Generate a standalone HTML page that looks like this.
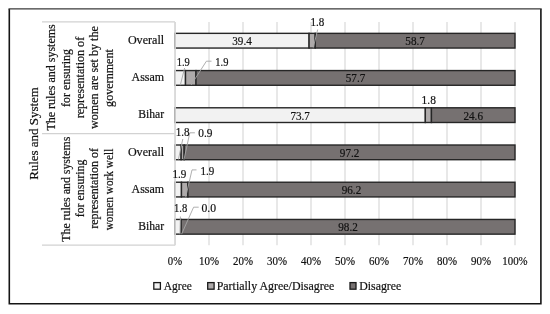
<!DOCTYPE html>
<html><head><meta charset="utf-8"><title>Rules and System</title>
<style>
html,body{margin:0;padding:0;background:#fff;}
body{width:550px;height:314px;overflow:hidden;}
svg{display:block;}
svg text{font-family:"Liberation Serif","DejaVu Serif",serif;fill:#111;stroke:#111;stroke-width:0.2px;}
</style></head><body>
<svg width="550" height="314" viewBox="0 0 550 314">
<rect x="0" y="0" width="550" height="314" fill="#fff"/>
<path d="M9.3 8.9 L9.3 303.7 L540.9 303.7 L540.9 8.9" fill="none" stroke="#151515" stroke-width="1.6" stroke-linejoin="miter"/>
<line x1="8.5" y1="8.9" x2="541.7" y2="8.9" stroke="#3a3a3a" stroke-width="1.2"/>
<line x1="175.00" y1="21.9" x2="175.00" y2="245.22" stroke="#d9d9d9" stroke-width="1.2"/>
<line x1="209.00" y1="21.9" x2="209.00" y2="245.22" stroke="#d9d9d9" stroke-width="1.2"/>
<line x1="243.00" y1="21.9" x2="243.00" y2="245.22" stroke="#d9d9d9" stroke-width="1.2"/>
<line x1="277.00" y1="21.9" x2="277.00" y2="245.22" stroke="#d9d9d9" stroke-width="1.2"/>
<line x1="311.00" y1="21.9" x2="311.00" y2="245.22" stroke="#d9d9d9" stroke-width="1.2"/>
<line x1="345.00" y1="21.9" x2="345.00" y2="245.22" stroke="#d9d9d9" stroke-width="1.2"/>
<line x1="379.00" y1="21.9" x2="379.00" y2="245.22" stroke="#d9d9d9" stroke-width="1.2"/>
<line x1="413.00" y1="21.9" x2="413.00" y2="245.22" stroke="#d9d9d9" stroke-width="1.2"/>
<line x1="447.00" y1="21.9" x2="447.00" y2="245.22" stroke="#d9d9d9" stroke-width="1.2"/>
<line x1="481.00" y1="21.9" x2="481.00" y2="245.22" stroke="#d9d9d9" stroke-width="1.2"/>
<line x1="515.00" y1="21.9" x2="515.00" y2="245.22" stroke="#d9d9d9" stroke-width="1.2"/>
<line x1="42" y1="21.90" x2="175.0" y2="21.90" stroke="#d2d2d2" stroke-width="1.3"/>
<line x1="42" y1="133.56" x2="175.0" y2="133.56" stroke="#d2d2d2" stroke-width="1.3"/>
<line x1="42" y1="245.22" x2="175.0" y2="245.22" stroke="#d2d2d2" stroke-width="1.3"/>
<rect x="175.00" y="33.35" width="134.09" height="14.7" fill="#f2f2f2" stroke="#262626" stroke-width="1.4"/>
<rect x="309.09" y="33.35" width="6.13" height="14.7" fill="#aeaaaa" stroke="#262626" stroke-width="1.4"/>
<rect x="315.22" y="33.35" width="199.78" height="14.7" fill="#767171" stroke="#262626" stroke-width="1.4"/>
<rect x="175.00" y="70.57" width="10.50" height="14.7" fill="#f2f2f2" stroke="#262626" stroke-width="1.4"/>
<rect x="185.50" y="70.57" width="10.50" height="14.7" fill="#aeaaaa" stroke="#262626" stroke-width="1.4"/>
<rect x="196.01" y="70.57" width="318.99" height="14.7" fill="#767171" stroke="#262626" stroke-width="1.4"/>
<rect x="175.00" y="107.79" width="250.33" height="14.7" fill="#f2f2f2" stroke="#262626" stroke-width="1.4"/>
<rect x="425.33" y="107.79" width="6.11" height="14.7" fill="#aeaaaa" stroke="#262626" stroke-width="1.4"/>
<rect x="431.44" y="107.79" width="83.56" height="14.7" fill="#767171" stroke="#262626" stroke-width="1.4"/>
<rect x="175.00" y="145.01" width="6.13" height="14.7" fill="#f2f2f2" stroke="#262626" stroke-width="1.4"/>
<rect x="181.13" y="145.01" width="3.06" height="14.7" fill="#aeaaaa" stroke="#262626" stroke-width="1.4"/>
<rect x="184.19" y="145.01" width="330.81" height="14.7" fill="#767171" stroke="#262626" stroke-width="1.4"/>
<rect x="175.00" y="182.23" width="6.46" height="14.7" fill="#f2f2f2" stroke="#262626" stroke-width="1.4"/>
<rect x="181.46" y="182.23" width="6.46" height="14.7" fill="#aeaaaa" stroke="#262626" stroke-width="1.4"/>
<rect x="187.92" y="182.23" width="327.08" height="14.7" fill="#767171" stroke="#262626" stroke-width="1.4"/>
<rect x="175.00" y="219.45" width="6.12" height="14.7" fill="#f2f2f2" stroke="#262626" stroke-width="1.4"/>
<rect x="181.12" y="219.45" width="333.88" height="14.7" fill="#767171" stroke="#262626" stroke-width="1.4"/>
<line x1="175.1" y1="21.9" x2="175.1" y2="245.22" stroke="#d9d9d9" stroke-width="1.6"/>
<polyline points="317.7,29.5 313.3,47.5" fill="none" stroke="#a6a6a6" stroke-width="0.9"/>
<polyline points="184.6,68.0 180.3,85.2" fill="none" stroke="#a6a6a6" stroke-width="0.9"/>
<polyline points="211.5,61.2 206.4,61.2 191.1,85.0" fill="none" stroke="#a6a6a6" stroke-width="0.9"/>
<polyline points="182.8,139.0 178.4,159.5" fill="none" stroke="#a6a6a6" stroke-width="0.9"/>
<polyline points="194.9,132.8 189.8,132.8 184.0,159.5" fill="none" stroke="#a6a6a6" stroke-width="0.9"/>
<polyline points="196.5,169.9 192.0,169.9 185.7,197.1" fill="none" stroke="#a6a6a6" stroke-width="0.9"/>
<polyline points="180.4,216.5 180.0,234.3" fill="none" stroke="#a6a6a6" stroke-width="0.9"/>
<polyline points="198.7,207.2 193.6,207.2 181.5,234.3" fill="none" stroke="#a6a6a6" stroke-width="0.9"/>
<text x="242.05" y="45.20" font-size="12" text-anchor="middle" textLength="19.5" lengthAdjust="spacingAndGlyphs">39.4</text>
<text x="415.11" y="45.20" font-size="12" text-anchor="middle" textLength="19.5" lengthAdjust="spacingAndGlyphs">58.7</text>
<text x="355.50" y="82.42" font-size="12" text-anchor="middle" textLength="19.5" lengthAdjust="spacingAndGlyphs">57.7</text>
<text x="300.16" y="119.64" font-size="12" text-anchor="middle" textLength="19.5" lengthAdjust="spacingAndGlyphs">73.7</text>
<text x="473.22" y="119.64" font-size="12" text-anchor="middle" textLength="19.5" lengthAdjust="spacingAndGlyphs">24.6</text>
<text x="349.59" y="156.86" font-size="12" text-anchor="middle" textLength="19.5" lengthAdjust="spacingAndGlyphs">97.2</text>
<text x="351.46" y="194.08" font-size="12" text-anchor="middle" textLength="19.5" lengthAdjust="spacingAndGlyphs">96.2</text>
<text x="348.06" y="231.30" font-size="12" text-anchor="middle" textLength="19.5" lengthAdjust="spacingAndGlyphs">98.2</text>
<text x="317.50" y="26.10" font-size="12" text-anchor="middle" textLength="13.8" lengthAdjust="spacingAndGlyphs">1.8</text>
<text x="183.25" y="65.50" font-size="12" text-anchor="middle" textLength="13.1" lengthAdjust="spacingAndGlyphs">1.9</text>
<text x="221.85" y="66.30" font-size="12" text-anchor="middle" textLength="13.1" lengthAdjust="spacingAndGlyphs">1.9</text>
<text x="428.75" y="103.90" font-size="12" text-anchor="middle" textLength="14.3" lengthAdjust="spacingAndGlyphs">1.8</text>
<text x="182.70" y="136.20" font-size="12" text-anchor="middle" textLength="13.8" lengthAdjust="spacingAndGlyphs">1.8</text>
<text x="205.40" y="137.10" font-size="12" text-anchor="middle" textLength="14.2" lengthAdjust="spacingAndGlyphs">0.9</text>
<text x="179.45" y="177.70" font-size="12" text-anchor="middle" textLength="13.9" lengthAdjust="spacingAndGlyphs">1.9</text>
<text x="207.50" y="174.50" font-size="12" text-anchor="middle" textLength="13.8" lengthAdjust="spacingAndGlyphs">1.9</text>
<text x="180.70" y="211.90" font-size="12" text-anchor="middle" textLength="13.2" lengthAdjust="spacingAndGlyphs">1.8</text>
<text x="208.80" y="211.90" font-size="12" text-anchor="middle" textLength="14.6" lengthAdjust="spacingAndGlyphs">0.0</text>
<text x="175.00" y="264.80" font-size="12" text-anchor="middle" textLength="14.3" lengthAdjust="spacingAndGlyphs">0%</text>
<text x="209.00" y="264.80" font-size="12" text-anchor="middle" textLength="20.0" lengthAdjust="spacingAndGlyphs">10%</text>
<text x="243.00" y="264.80" font-size="12" text-anchor="middle" textLength="20.0" lengthAdjust="spacingAndGlyphs">20%</text>
<text x="277.00" y="264.80" font-size="12" text-anchor="middle" textLength="20.0" lengthAdjust="spacingAndGlyphs">30%</text>
<text x="311.00" y="264.80" font-size="12" text-anchor="middle" textLength="20.0" lengthAdjust="spacingAndGlyphs">40%</text>
<text x="345.00" y="264.80" font-size="12" text-anchor="middle" textLength="20.0" lengthAdjust="spacingAndGlyphs">50%</text>
<text x="379.00" y="264.80" font-size="12" text-anchor="middle" textLength="20.0" lengthAdjust="spacingAndGlyphs">60%</text>
<text x="413.00" y="264.80" font-size="12" text-anchor="middle" textLength="20.0" lengthAdjust="spacingAndGlyphs">70%</text>
<text x="447.00" y="264.80" font-size="12" text-anchor="middle" textLength="20.0" lengthAdjust="spacingAndGlyphs">80%</text>
<text x="481.00" y="264.80" font-size="12" text-anchor="middle" textLength="20.0" lengthAdjust="spacingAndGlyphs">90%</text>
<text x="515.00" y="264.80" font-size="12" text-anchor="middle" textLength="25.3" lengthAdjust="spacingAndGlyphs">100%</text>
<text x="146.00" y="43.50" font-size="12" text-anchor="middle" textLength="36.2" lengthAdjust="spacingAndGlyphs">Overall</text>
<text x="147.80" y="81.42" font-size="12" text-anchor="middle" textLength="32.6" lengthAdjust="spacingAndGlyphs">Assam</text>
<text x="151.15" y="118.44" font-size="12" text-anchor="middle" textLength="25.9" lengthAdjust="spacingAndGlyphs">Bihar</text>
<text x="146.00" y="156.16" font-size="12" text-anchor="middle" textLength="36.2" lengthAdjust="spacingAndGlyphs">Overall</text>
<text x="147.80" y="193.38" font-size="12" text-anchor="middle" textLength="32.6" lengthAdjust="spacingAndGlyphs">Assam</text>
<text x="151.15" y="229.60" font-size="12" text-anchor="middle" textLength="25.9" lengthAdjust="spacingAndGlyphs">Bihar</text>
<text x="55.30" y="77.40" font-size="12" text-anchor="middle" textLength="106.4" lengthAdjust="spacingAndGlyphs" transform="rotate(-90 55.30 77.40)">The rules and systems</text>
<text x="69.80" y="78.00" font-size="12" text-anchor="middle" textLength="57.8" lengthAdjust="spacingAndGlyphs" transform="rotate(-90 69.80 78.00)">for ensuring</text>
<text x="84.20" y="77.55" font-size="12" text-anchor="middle" textLength="81.5" lengthAdjust="spacingAndGlyphs" transform="rotate(-90 84.20 77.55)">representation of</text>
<text x="98.40" y="77.60" font-size="12" text-anchor="middle" textLength="102.8" lengthAdjust="spacingAndGlyphs" transform="rotate(-90 98.40 77.60)">women are set by the</text>
<text x="112.70" y="78.00" font-size="12" text-anchor="middle" textLength="57.8" lengthAdjust="spacingAndGlyphs" transform="rotate(-90 112.70 78.00)">government</text>
<text x="69.80" y="189.20" font-size="12" text-anchor="middle" textLength="105.2" lengthAdjust="spacingAndGlyphs" transform="rotate(-90 69.80 189.20)">The rules and systems</text>
<text x="84.20" y="188.40" font-size="12" text-anchor="middle" textLength="57.8" lengthAdjust="spacingAndGlyphs" transform="rotate(-90 84.20 188.40)">for ensuring</text>
<text x="98.40" y="188.40" font-size="12" text-anchor="middle" textLength="80.8" lengthAdjust="spacingAndGlyphs" transform="rotate(-90 98.40 188.40)">representation of</text>
<text x="112.80" y="189.50" font-size="12" text-anchor="middle" textLength="81.6" lengthAdjust="spacingAndGlyphs" transform="rotate(-90 112.80 189.50)">women work well</text>
<text x="37.50" y="133.50" font-size="13" text-anchor="middle" textLength="92.6" lengthAdjust="spacingAndGlyphs" transform="rotate(-90 37.50 133.50)">Rules and System</text>
<rect x="153.8" y="282.6" width="6.6" height="6.6" fill="#f2f2f2" stroke="#1a1a1a" stroke-width="1.3"/>
<rect x="207.7" y="282.6" width="6.4" height="6.6" fill="#aeaaaa" stroke="#1a1a1a" stroke-width="1.3"/>
<rect x="350.0" y="282.6" width="6.0" height="6.6" fill="#767171" stroke="#1a1a1a" stroke-width="1.3"/>
<text x="177.85" y="289.80" font-size="12.5" text-anchor="middle" textLength="28.1" lengthAdjust="spacingAndGlyphs">Agree</text>
<text x="275.50" y="289.80" font-size="12.5" text-anchor="middle" textLength="117.6" lengthAdjust="spacingAndGlyphs">Partially Agree/Disagree</text>
<text x="380.25" y="289.80" font-size="12.5" text-anchor="middle" textLength="42.1" lengthAdjust="spacingAndGlyphs">Disagree</text>
</svg>
</body></html>
